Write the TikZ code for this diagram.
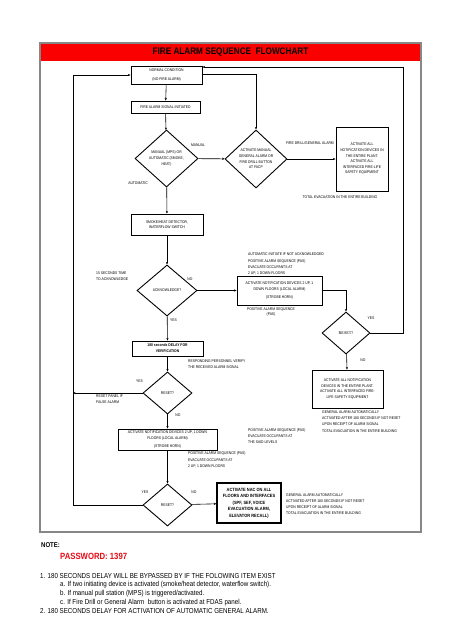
\documentclass[tikz,border=0pt]{standalone}
\usepackage{fontspec}
\setmainfont{Liberation Sans}[FakeStretch=0.86]
\newfontfamily\resetserif{Liberation Serif}
\usetikzlibrary{shapes.geometric}
\usetikzlibrary{arrows.meta}
\usepackage{xcolor}
\definecolor{titlered}{RGB}{250,0,0}
\definecolor{pwred}{RGB}{230,10,20}
\definecolor{framegray}{RGB}{135,135,135}

\begin{document}
\begin{tikzpicture}[x=1pt,y=-1pt,
    box/.style={draw, line width=0.9pt, rectangle, inner sep=0pt, align=center, font=\fontsize{3.9}{5.6}\selectfont},
    dia/.style={draw, line width=0.9pt, diamond, inner sep=0pt, align=center, font=\fontsize{3.9}{5.6}\selectfont},
    note/.style={inner sep=0pt, align=left, anchor=west, font=\fontsize{3.9}{6.2}\selectfont},
    lbl/.style={inner sep=0pt, font=\fontsize{3.9}{5.6}\selectfont},
    item/.style={inner sep=0pt, anchor=west, font=\fontsize{7.2}{8}\selectfont},
    flow/.style={->, line width=0.6pt, >={Stealth[length=2.6pt,width=2.2pt]}}]
            \useasboundingbox (0,0) rectangle (474,632);
            % frame and title
            \fill[titlered] (40,43) rectangle (421,61);
            \draw[framegray, line width=1.6pt] (40,43) rectangle (421,532);
            \node[inner sep=0pt, font=\fontsize{9.5}{10}\selectfont\bfseries] (title) at (230.5,52) {FIRE ALARM SEQUENCE\ \ FLOWCHART};

            % main column
            \node[box, minimum width=71pt, minimum height=18pt] (normal) at (166.5,75) {NORMAL CONDITION\\[2.6pt](NO FIRE ALARM)};
            \node[box, minimum width=69pt, minimum height=12pt] (signal) at (165.5,107) {FIRE ALARM SIGNAL INITIATED};
            \node[dia, minimum width=63pt, minimum height=57pt] (mpsauto) at (166.5,158.5) {MANUAL (MPS) OR\\AUTOMATIC (SMOKE,\\HEAT)};
            \node[dia, minimum width=62pt, minimum height=58pt] (facp) at (256,159) {ACTIVATE MANUAL\\GENERAL ALARM OR\\FIRE DRILL BUTTON\\AT FACP};
            \node[box, minimum width=52pt, minimum height=64pt] (plantA) at (362,159) {ACTIVATE ALL\\NOTIFICATION DEVICES IN\\THE ENTIRE PLANT.\\ACTIVATE ALL\\INTERFACED FIRE-LIFE\\SAFETY EQUIPMENT};
            \node[box, minimum width=72pt, minimum height=21pt] (detector) at (167,224.5) {SMOKE/HEAT DETECTOR,\\WATERFLOW SWITCH};
            \node[dia, minimum width=60pt, minimum height=51pt] (ack) at (167,290.5) {ACKNOWLEDGE?};
            \node[box, minimum width=85pt, minimum height=29pt] (localA) at (279.5,290.5) {ACTIVATE NOTIFICATION DEVICES 2 UP, 1\\DOWN FLOORS (LOCAL ALARM)\\[2pt](STROBE HORN)};
            \node[dia, minimum width=48pt, minimum height=42pt, font=\fontsize{4.2}{5}\resetserif] (resetA) at (346,333) {RESET?};
            \node[box, minimum width=71pt, minimum height=38pt] (plantB) at (347.5,389) {ACTIVATE ALL NOTIFICATION\\DEVICES IN THE ENTIRE PLANT.\\ACTIVATE ALL INTERFACED FIRE-\\LIFE SAFETY EQUIPMENT};
            \node[box, minimum width=71pt, minimum height=15pt, font=\fontsize{3.9}{6}\selectfont\bfseries] (delay) at (167.5,348.5) {180 seconds DELAY FOR\\VERIFICATION};
            \node[dia, minimum width=49pt, minimum height=42pt] (resetB) at (167.5,393) {RESET?};
            \node[box, minimum width=99pt, minimum height=21pt] (localB) at (167.5,439.5) {ACTIVATE NOTIFICATION DEVICES 2 UP, 1 DOWN\\FLOORS (LOCAL ALARM)\\[2pt](STROBE HORN)};
            \node[dia, minimum width=49pt, minimum height=42pt] (resetC) at (167.5,505) {RESET?};
            \node[box, minimum width=64pt, minimum height=40pt, line width=1.2pt, font=\fontsize{4.6}{6.5}\selectfont\bfseries] (nac) at (249,503) {ACTIVATE NAC ON ALL\\FLOORS AND INTERFACES\\(SPF, SEF, VOICE\\EVACUATION ALARM,\\ELEVATOR RECALL)};

            % labels and remarks
            \node[lbl] (manuallbl) at (198,145) {MANUAL};
            \node[lbl] (autolbl) at (138,183) {AUTOMATIC};
            \node[lbl] (drilllbl) at (310,143) {FIRE DRILL/GENERAL ALARM};
            \node[lbl] (evacA) at (340,197) {TOTAL EVACUATION IN THE ENTIRE BUILDING};
            \node[note] (acktime) at (96,276) {15 SECONDS TIME\\TO ACKNOWLEDGE};
            \node[lbl] (ackno) at (190,279) {NO};
            \node[lbl] (ackyes) at (173.5,320) {YES};
            \node[note] (autoinit) at (248,264) {AUTOMATIC INITIATE IF NOT ACKNOWLEDGED\\POSITIVE ALARM SEQUENCE (PAS)\\EVACUATE OCCUPANTS AT\\2 UP, 1 DOWN FLOORS};
            \node[lbl, align=center] (pasA) at (271,312) {POSITIVE ALARM SEQUENCE\\(PAS)};
            \node[lbl] (resetAyes) at (371,318) {YES};
            \node[lbl] (resetAno) at (363,360) {NO};
            \node[note] (gaA) at (322,421.5) {GENERAL ALARM AUTOMATICALLY\\ACTIVATED AFTER 180 SECONDS IF NOT RESET\\UPON RECEIPT OF ALARM SIGNAL\\TOTAL EVACUATION IN THE ENTIRE BUILDING};
            \node[note] (pasB) at (248,436) {POSITIVE ALARM SEQUENCE (PAS)\\EVACUATE OCCUPANTS AT\\THE SAID LEVELS};
            \node[note] (verify) at (188,364) {RESPONDING PERSONNEL VERIFY\\THE RECEIVED ALARM SIGNAL};
            \node[lbl] (resetByes) at (139.5,381) {YES};
            \node[note] (falsealarm) at (96,399) {RESET PANEL IF\\FALSE ALARM};
            \node[lbl] (resetBno) at (178,415) {NO};
            \node[note] (pasC) at (188,460) {POSITIVE ALARM SEQUENCE (PAS)\\EVACUATE OCCUPANTS AT\\2 UP, 1 DOWN FLOORS};
            \node[lbl] (resetCyes) at (145,492) {YES};
            \node[lbl] (resetCno) at (194,492) {NO};
            \node[note] (gaB) at (286,504) {GENERAL ALARM AUTOMATICALLY\\ACTIVATED AFTER 180 SECONDS IF NOT RESET\\UPON RECEIPT OF ALARM SIGNAL\\TOTAL EVACUATION IN THE ENTIRE BUILDING};

            % loop corners
            \coordinate (leftloop) at (73,75);
            \coordinate (rightloop) at (403,67);

            \draw[flow] (normal) -- (signal);
            \draw[flow] (signal) -- (mpsauto);
            \draw[flow] (mpsauto) -- (facp);
            \draw[flow] (facp) -- (plantA);
            \draw[flow] ([yshift=1pt]normal.east) -| (facp.north);
            \draw[flow] (mpsauto) -- (detector);
            \draw[flow] (detector) -- (ack);
            \draw[flow] (ack) -- (localA);
            \draw[flow] (localA.east) -| (resetA.north);
            \draw[flow] (resetA.east) -| (rightloop) -- ([yshift=8pt]normal.east);
            \draw[flow] (resetA) -- (plantB);
            \draw[flow] (ack) -- (delay);
            \draw[flow] (delay) -- (resetB);
            \draw[flow] (resetB.west) -- (resetB.west -| leftloop);
            \draw[flow] (resetB) -- (localB);
            \draw[flow] (localB) -- (resetC);
            \draw[flow] (resetC) -- (nac);
            \draw[flow] (resetC.west) -| (leftloop) -- (normal.west);

            % notes
            \node[inner sep=0pt, anchor=west, font=\fontsize{7}{8}\selectfont\bfseries] (notehead) at (41,545) {NOTE:};
            \node[inner sep=0pt, anchor=west, text=pwred, font=\fontsize{9}{10}\selectfont\bfseries] (password) at (60,556) {PASSWORD: 1397};
            \node[item] (itemone) at (40,576) {1. 180 SECONDS DELAY WILL BE BYPASSED BY IF THE FOLOWING ITEM EXIST};
            \node[item] (itema) at (60,585) {a. If two initiating device is activated (smoke/heat detector, waterflow switch).};
            \node[item] (itemb) at (60,594) {b. If manual pull station (MPS) is triggered/activated.};
            \node[item] (itemc) at (60,603) {c. If Fire Drill or General Alarm\ \ button is activated at FDAS panel.};
            \node[item] (itemtwo) at (40,611.5) {2. 180 SECONDS DELAY FOR ACTIVATION OF AUTOMATIC GENERAL ALARM.};
        \end{tikzpicture}
\end{document}
